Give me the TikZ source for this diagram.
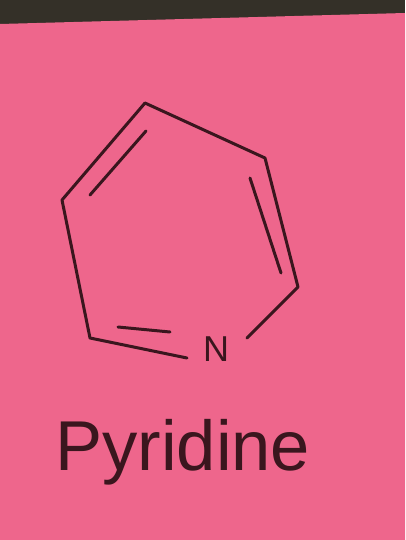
\documentclass[tikz,border=0pt]{standalone}
\usepackage{fontspec}
\setmainfont{Liberation Sans}
\begin{document}
\begin{tikzpicture}[x=1pt,y=-1pt,
  ink/.style={draw=inkc,line width=3pt,line cap=round,line join=round},
  lbl/.style={text=inkc,inner sep=0pt}]
\definecolor{pinkc}{RGB}{238,102,140}
\definecolor{woodc}{RGB}{52,48,40}
\definecolor{inkc}{RGB}{58,22,30}
\useasboundingbox (0,0) rectangle (405,540);
\fill[woodc] (0,0) rectangle (405,30);
\fill[pinkc] (0,24) -- (405,13) -- (405,540) -- (0,540) -- cycle;
% ring atoms
\coordinate (c1) at (145,103);
\coordinate (c2) at (265,158);
\coordinate (c3) at (298,287);
\coordinate (c3n) at (247,338);
\node[lbl,font=\fontsize{36}{36}\selectfont] (n) at (216,349) {N};
\coordinate (c5n) at (187,358);
\coordinate (c5) at (90,338);
\coordinate (c6) at (62,200);
\draw[ink] (c5n) -- (c5) -- (c6) -- (c1) -- (c2) -- (c3) -- (c3n);
% inner double-bond lines
\coordinate (d1a) at (146,131); \coordinate (d1b) at (90,195);
\coordinate (d2a) at (250,178); \coordinate (d2b) at (281,273);
\coordinate (d3a) at (118,327); \coordinate (d3b) at (170,332);
\draw[ink] (d1a) -- (d1b);
\draw[ink] (d2a) -- (d2b);
\draw[ink] (d3a) -- (d3b);
\node[lbl,anchor=base west] (name) at (55,470) {\resizebox{255pt}{!}{Pyridine}};
\end{tikzpicture}
\end{document}
